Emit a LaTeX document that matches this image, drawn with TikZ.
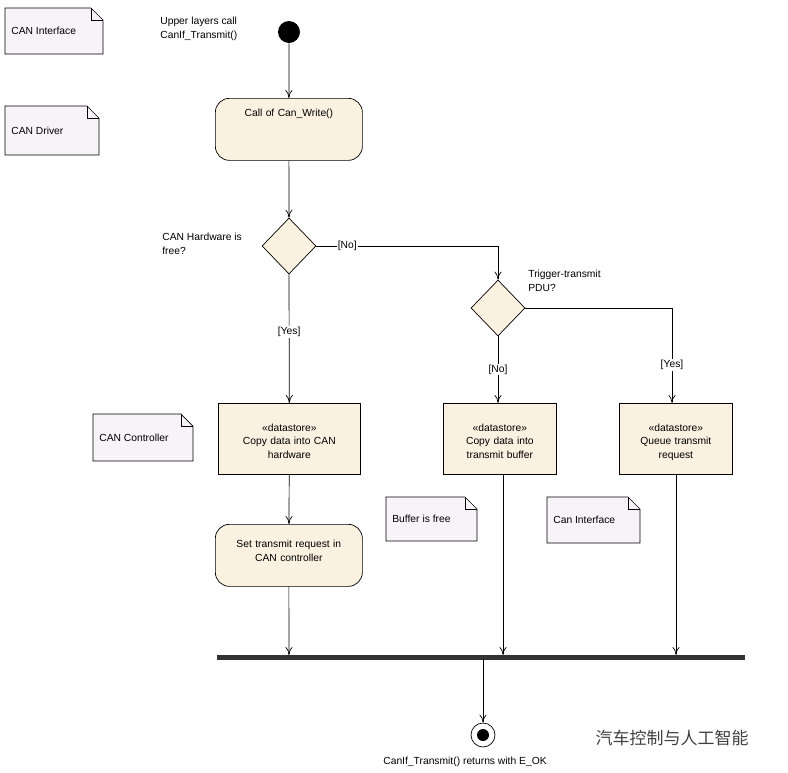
\documentclass[tikz,border=0pt]{standalone}
\usepackage{fontspec}
\setmainfont{Liberation Sans}
\newfontfamily\cjk{Noto Sans CJK SC}
\usetikzlibrary{shapes.geometric,arrows.meta}
\definecolor{actfill}{HTML}{FBF1E1}
\definecolor{notefill}{HTML}{F7F3F8}
\begin{document}
\begin{tikzpicture}[x=1pt,y=-1pt,font=\fontsize{10.3}{13.5}\selectfont,line width=0.7pt,
  act/.style={draw,fill=actfill,rounded corners=14pt,minimum width=147pt,minimum height=62pt,align=center,anchor=north west,text depth=34pt},
  box/.style={draw,fill=actfill,align=center,anchor=north west,text depth=26pt},
  dia/.style={draw,fill=actfill,diamond,minimum width=54pt,minimum height=56pt,inner sep=0pt},
  lbl/.style={fill=white,inner sep=1pt},
  txt/.style={align=left,anchor=west,inner sep=0pt},
  arr/.style={-{To[length=8pt,width=7pt]}}]
\useasboundingbox (0,0) rectangle (788,772);
\newcommand\mynote[6]{% name,x1,y1,x2,y2,text
  \fill[notefill] (#2,#3) -- (#4-12,#3) -- (#4,#3+12) -- (#4,#5) -- (#2,#5) -- cycle;
  \draw (#2,#3) -- (#4-12,#3) -- (#4,#3+12) -- (#4,#5) -- (#2,#5) -- cycle;
  \draw (#4-12,#3) -- (#4-12,#3+12) -- (#4,#3+12);
  \node[anchor=west,inner sep=0pt] (#1) at (#2+6,{(#3+#5)/2}) {#6};}
\mynote{n1}{5}{8}{103}{54}{CAN Interface}
\mynote{n2}{5}{106}{99}{155}{CAN Driver}
\mynote{n3}{93}{414}{193}{461}{CAN Controller}
\mynote{n4}{386}{497}{477}{541}{Buffer is free}
\mynote{n5}{547}{497}{640}{543}{Can Interface}
\node[circle,fill=black,minimum size=22pt,inner sep=0pt] (start) at (289,32) {};
\node[txt] (t1) at (160,29) {Upper layers call\\CanIf\_Transmit()};
\node[act,minimum width=147pt,text width=140pt] (a1) at (215,98) {\rule{0pt}{9pt}Call of Can\_Write()};
\node[dia] (d1) at (289,246) {};
\node[txt] (t2) at (162,244) {CAN Hardware is\\free?};
\node[dia] (d2) at (498,308) {};
\node[txt] (t3) at (528,281) {Trigger-transmit\\PDU?};
\node[box,minimum width=142pt,minimum height=71pt,text width=130pt,text depth=24pt] (b1) at (218,403) {\rule{0pt}{9pt}«datastore»\\Copy data into CAN\\hardware};
\node[box,minimum width=113pt,minimum height=71pt,text width=105pt,text depth=24pt] (b2) at (443,403) {\rule{0pt}{9pt}«datastore»\\Copy data into\\transmit buffer};
\node[box,minimum width=113pt,minimum height=71pt,text width=105pt,text depth=24pt] (b3) at (619,403) {\rule{0pt}{9pt}«datastore»\\Queue transmit\\request};
\node[act,minimum width=147pt,text width=140pt,text depth=24pt] (a2) at (215,524) {\rule{0pt}{9pt}Set transmit request in\\CAN controller};
\coordinate (barL) at (217,657); \coordinate (barR) at (745,657);
\draw[line width=5pt,draw=black!80] (barL) -- (barR);
\node[circle,draw,minimum size=24pt,inner sep=0pt] (end) at (483,735) {};
\fill (end) circle (6pt);
\node (t4) at (465,762) {CanIf\_Transmit() returns with E\_OK};
\node[anchor=west,text=black!75,font=\cjk\fontsize{17}{19}\selectfont] (wm) at (592,738) {汽车控制与人工智能};
\draw[arr] (start) -- (a1);
\draw[arr] (a1) -- (d1);
\draw[arr] (d1.south) -- (b1.north) node[lbl,pos=0.45] {[Yes]};
\draw[arr] (d1.east) -- (498,246) node[lbl,pos=0.17] {[No]} -- (d2.north);
\draw[arr] (d2.south) -- (d2.south|-b2.north) node[lbl,midway] {[No]};
\draw[arr] (d2.east) -- (672,308) -- (672,403) node[lbl,pos=0.6] {[Yes]};
\draw[arr] (b1) -- (a2);
\draw[arr] (a2.south) -- (289,655);
\draw[arr] (503,474) -- (503,655);
\draw[arr] (676,474) -- (676,655);
\draw[arr] (483,659) -- (end.north);
\end{tikzpicture}
\end{document}
